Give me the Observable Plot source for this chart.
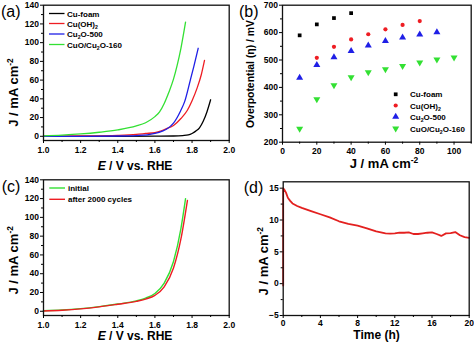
<!DOCTYPE html>
<html><head><meta charset="utf-8">
<script src="https://cdn.jsdelivr.net/npm/d3@7"></script>
<script src="https://cdn.jsdelivr.net/npm/@observablehq/plot@0.6"></script>
<style>
html,body{margin:0;padding:0;background:#fff;}
#wrap{position:relative;width:474px;height:344px;overflow:hidden;}
#wrap svg{position:absolute;overflow:visible;}
</style></head><body><div id="wrap"></div>
<script>
// ---------- Panel (a): LSV curves ----------
const aSeries = ["Cu-foam", "Cu(OH)2", "Cu2O-500", "CuO/Cu2O-160"];
const aFoamE = [1.0, 1.2, 1.4, 1.6, 1.7, 1.75, 1.78, 1.80, 1.82, 1.84, 1.86, 1.88, 1.90];
const aFoamJ = [0, 0, 0, 0.1, 0.3, 0.8, 1.5, 3, 5.5, 9, 16, 26, 39];
const aOHE = [1.0, 1.2, 1.4, 1.5, 1.55, 1.6, 1.63, 1.66, 1.70, 1.74, 1.774, 1.80, 1.828, 1.85, 1.867];
const aOHJ = [0, 0.3, 1, 2, 3, 4, 5.5, 8, 11.5, 19, 27.5, 38, 52, 66, 81];
const aCu2OE = [1.0, 1.2, 1.4, 1.5, 1.558, 1.6, 1.64, 1.666, 1.70, 1.738, 1.76, 1.79, 1.81, 1.833];
const aCu2OJ = [0, 0, 0.3, 0.8, 1.5, 3, 5.5, 8, 14, 27, 37, 59.5, 75, 94];
const aCuOE = [1.0, 1.1, 1.2, 1.3, 1.4, 1.5, 1.55, 1.6, 1.625, 1.65, 1.675, 1.70, 1.72, 1.74, 1.765];
const aCuOJ = [0.5, 1.3, 2.5, 4.3, 6.8, 11, 14.5, 21, 26, 35, 47, 61, 76, 94, 122];

// ---------- Panel (b): overpotential ----------
const bFoamJ = [10, 20, 30, 40];
const bFoamEta = [590, 630, 653, 671];
const bOHJ = [20, 30, 40, 50, 60, 70, 80];
const bOHEta = [508, 548, 575, 594, 612, 628, 642];
const bCu2OJ = [10, 20, 30, 40, 50, 60, 70, 80, 90];
const bCu2OEta = [435, 482, 510, 533, 553, 569, 582, 593, 601];
const bCuOJ = [10, 20, 30, 40, 50, 60, 70, 80, 90, 100];
const bCuOEta = [249, 357, 408, 437, 455, 466, 478, 491, 502, 509];

// ---------- Panel (c): stability LSV ----------
const cSeries = ["initial", "after 2000 cycles"];
const cInitE = [1.0, 1.1, 1.2, 1.3, 1.4, 1.5, 1.55, 1.6, 1.65, 1.7, 1.74, 1.765];
const cInitJ = [0.5, 1.3, 2.8, 5, 7.7, 11, 14, 19, 30, 53, 88, 120];
const cAfterE = [1.0, 1.1, 1.2, 1.3, 1.4, 1.5, 1.55, 1.6, 1.65, 1.7, 1.74, 1.775];
const cAfterJ = [0.3, 1.1, 2.5, 4.7, 7.5, 10.5, 13, 17, 26, 46, 77, 118];

// ---------- Panel (d): chronoamperometry ----------
const dT = [0, 0, 0.15, 0.3, 0.5, 0.75, 1, 1.5, 2, 3, 4, 5, 6, 7, 8, 9, 10, 11, 11.5, 12, 12.5, 13, 13.5, 14, 14.5, 15, 15.5, 16, 16.5, 17, 17.5, 18, 18.5, 19, 19.5, 20];
const dJ = [-0.3, 15, 14.7, 14.3, 13.5, 13.0, 12.6, 12.2, 11.9, 11.4, 10.9, 10.4, 9.8, 9.4, 9.1, 8.7, 8.2, 7.9, 7.85, 7.9, 8.0, 8.0, 8.05, 7.8, 7.8, 7.9, 8.0, 8.05, 7.8, 7.5, 7.9, 7.95, 8.1, 7.6, 7.3, 7.2];

const FONT = '"Liberation Sans", Arial, Helvetica, sans-serif';
const C = {black: "#000000", red: "#ee1d23", blue: "#1f1fe6", green: "#33e033", dred: "#e3201f"};
const wrap = document.getElementById("wrap");

const zip = (xs, ys, s) => xs.map((x, i) => ({x, y: ys[i], s}));

const sqrt3 = Math.sqrt(3);
const triangleDown = {draw(ctx, size) {
  const y = -Math.sqrt(size / (sqrt3 * 3));
  ctx.moveTo(0, -y * 2); ctx.lineTo(-sqrt3 * y, y); ctx.lineTo(sqrt3 * y, y); ctx.closePath();
}};

function panel(o) {
  const [mt, mr, mb, ml] = o.margins;
  const svg = Plot.plot({
    width: 237, height: 172, marginTop: mt, marginRight: mr, marginBottom: mb, marginLeft: ml,
    style: {fontFamily: FONT, fontSize: "8.5px", fontWeight: "bold", color: "#000", background: "transparent", overflow: "visible"},
    x: {domain: o.xDomain}, y: {domain: o.yDomain},
    marks: [
      ...o.marks,
      Plot.frame({stroke: "#111", strokeWidth: 1.3}),
      Plot.axisX({ticks: o.xTicks, tickSize: 3, tickPadding: o.xPad ?? 3, tickFormat: o.xFmt, label: null}),
      Plot.axisX({ticks: o.xMinor, tickSize: 2, tickFormat: () => "", label: null}),
      Plot.axisY({ticks: o.yTicks, tickSize: 3, tickPadding: 1.5, label: null}),
      Plot.axisY({ticks: o.yMinor, tickSize: 2, tickFormat: () => "", label: null})
    ]
  });
  svg.style.left = o.left + "px"; svg.style.top = o.top + "px";
  wrap.appendChild(svg);
  return d3.select(svg);
}

function rich(g, x, y, parts, {size = 12, weight = "bold", rotate = 0, anchor = "middle"} = {}) {
  const t = g.append("text").attr("transform", `translate(${x},${y}) rotate(${rotate})`)
    .attr("text-anchor", anchor).attr("font-size", size).attr("font-weight", weight)
    .attr("font-family", FONT).attr("fill", "#000");
  let shift = 0;
  for (const p of parts) {
    const s = typeof p === "string" ? {t: p} : p;
    const ts = t.append("tspan").text(s.t);
    const want = s.sup ? -size * 0.38 : s.sub ? size * 0.25 : 0;
    if (want !== shift) { ts.attr("dy", want - shift); shift = want; }
    if (s.sup || s.sub) ts.attr("font-size", size * 0.65);
    if (s.italic) ts.attr("font-style", "italic");
  }
  return t;
}
const labelParts = {
  "Cu-foam": ["Cu-foam"],
  "Cu(OH)2": ["Cu(OH)", {t: "2", sub: true}],
  "Cu2O-500": ["Cu", {t: "2", sub: true}, "O-500"],
  "CuO/Cu2O-160": ["CuO/Cu", {t: "2", sub: true}, "O-160"],
  "initial": ["initial"],
  "after 2000 cycles": ["after 2000 cycles"]
};
const Jlabel = ["J / mA cm", {t: "-2", sup: true}];
const Elabel = [{t: "E", italic: true}, " / V vs. RHE"];
const XL = 12, YL = 13;

// ---------- draw (a) ----------
{
  const data = [
    ...zip(aFoamE, aFoamJ, aSeries[0]), ...zip(aOHE, aOHJ, aSeries[1]),
    ...zip(aCu2OE, aCu2OJ, aSeries[2]), ...zip(aCuOE, aCuOJ, aSeries[3])
  ];
  const cols = [C.black, C.red, C.blue, C.green];
  const g = panel({
    left: 0, top: 0, margins: [4.7, 8.3, 32, 43],
    xDomain: [1.0, 2.0], yDomain: [-4.5, 140],
    xTicks: [1.0, 1.2, 1.4, 1.6, 1.8, 2.0], xMinor: [1.1, 1.3, 1.5, 1.7, 1.9], xFmt: d3.format(".1f"),
    yTicks: [0, 20, 40, 60, 80, 100, 120, 140], yMinor: [10, 30, 50, 70, 90, 110, 130],
    marks: [Plot.line(data, {x: "x", y: "y", z: "s", stroke: d => cols[aSeries.indexOf(d.s)], strokeWidth: 1.3, curve: "monotone-x"})]
  });
  rich(g, 1, 17, ["(a)"], {size: 16, weight: "normal", anchor: "start"});
  rich(g, 135, 169.5, Elabel, {size: XL});
  rich(g, 18, 92.5, Jlabel, {size: YL, rotate: -90});
  const rows = [13.5, 23.5, 34, 44.5];
  aSeries.forEach((s, i) => {
    g.append("line").attr("x1", 49).attr("x2", 64.5).attr("y1", rows[i]).attr("y2", rows[i]).attr("stroke", cols[i]).attr("stroke-width", 1.3);
    rich(g, 67, rows[i] + 3, labelParts[s], {size: 8, anchor: "start"});
  });
}

// ---------- draw (b) ----------
{
  const sets = [
    {j: bFoamJ, e: bFoamEta, c: C.black, sym: "square", r: 2.1},
    {j: bOHJ, e: bOHEta, c: C.red, sym: "circle", r: 2.1},
    {j: bCu2OJ, e: bCu2OEta, c: C.blue, sym: "triangle", r: 2.6},
    {j: bCuOJ, e: bCuOEta, c: C.green, sym: triangleDown, r: 2.6}
  ];
  const g = panel({
    left: 237, top: 0, margins: [4.7, 3.3, 30.3, 45],
    xDomain: [0, 110], yDomain: [200, 700],
    xTicks: [0, 20, 40, 60, 80, 100], xMinor: [10, 30, 50, 70, 90, 110], xFmt: d3.format("d"),
    yTicks: [200, 300, 400, 500, 600, 700], yMinor: [250, 350, 450, 550, 650],
    marks: sets.map(s => Plot.dot(zip(s.j, s.e), {x: "x", y: "y", fill: s.c, stroke: "none", symbol: s.sym, r: s.r}))
  });
  rich(g, 2, 16.7, ["(b)"], {size: 16, weight: "normal", anchor: "start"});
  rich(g, 147, 168, Jlabel, {size: YL});
  rich(g, 16.5, 74, ["Overpotential (\u03b7) / mV"], {size: 10.4, rotate: -90});
  const rows = [94.3, 105.5, 116.8, 128.5];
  aSeries.forEach((s, i) => {
    const set = sets[i];
    const type = set.sym === "square" ? d3.symbolSquare : set.sym === "circle" ? d3.symbolCircle : set.sym === "triangle" ? d3.symbolTriangle : triangleDown;
    g.append("path").attr("transform", `translate(158.7,${rows[i]})`)
      .attr("d", d3.symbol(type, set.r * set.r * Math.PI)()).attr("fill", set.c);
    rich(g, 173, rows[i] + 3, labelParts[s], {size: 8, anchor: "start"});
  });
}

// ---------- draw (c) ----------
{
  const data = [...zip(cInitE, cInitJ, cSeries[0]), ...zip(cAfterE, cAfterJ, cSeries[1])];
  const cols = [C.green, C.red];
  const g = panel({
    left: 0, top: 172, margins: [7.3, 8.3, 29, 43],
    xDomain: [1.0, 2.0], yDomain: [-4.5, 140],
    xTicks: [1.0, 1.2, 1.4, 1.6, 1.8, 2.0], xMinor: [1.1, 1.3, 1.5, 1.7, 1.9], xFmt: d3.format(".1f"),
    yTicks: [0, 20, 40, 60, 80, 100, 120, 140], yMinor: [10, 30, 50, 70, 90, 110, 130],
    marks: [Plot.line(data, {x: "x", y: "y", z: "s", stroke: d => cols[cSeries.indexOf(d.s)], strokeWidth: 1.4, curve: "monotone-x"})]
  });
  rich(g, 1.7, 20, ["(c)"], {size: 16, weight: "normal", anchor: "start"});
  rich(g, 135, 168, Elabel, {size: XL});
  rich(g, 18, 88.3, Jlabel, {size: YL, rotate: -90});
  const rows = [16, 27.3];
  cSeries.forEach((s, i) => {
    g.append("line").attr("x1", 49.3).attr("x2", 65).attr("y1", rows[i]).attr("y2", rows[i]).attr("stroke", cols[i]).attr("stroke-width", 1.4);
    rich(g, 68, rows[i] + 3, labelParts[s], {size: 8, anchor: "start"});
  });
}

// ---------- draw (d) ----------
{
  const g = panel({
    left: 237, top: 172, margins: [9.3, 5.3, 29, 45.7], xPad: 1.5,
    xDomain: [0, 20], yDomain: [-5, 16],
    xTicks: [0, 4, 8, 12, 16, 20], xMinor: [2, 6, 10, 14, 18], xFmt: d3.format("d"),
    yTicks: [-5, 0, 5, 10, 15], yMinor: [-2.5, 2.5, 7.5, 12.5],
    marks: [Plot.line(zip(dT, dJ), {x: "x", y: "y", stroke: C.dred, strokeWidth: 1.8})]
  });
  rich(g, 6.7, 20.7, ["(d)"], {size: 16, weight: "normal", anchor: "start"});
  rich(g, 139.5, 167, ["Time (h)"], {size: XL});
  rich(g, 30.5, 89.2, Jlabel, {size: YL, rotate: -90});
}
</script></body></html>
